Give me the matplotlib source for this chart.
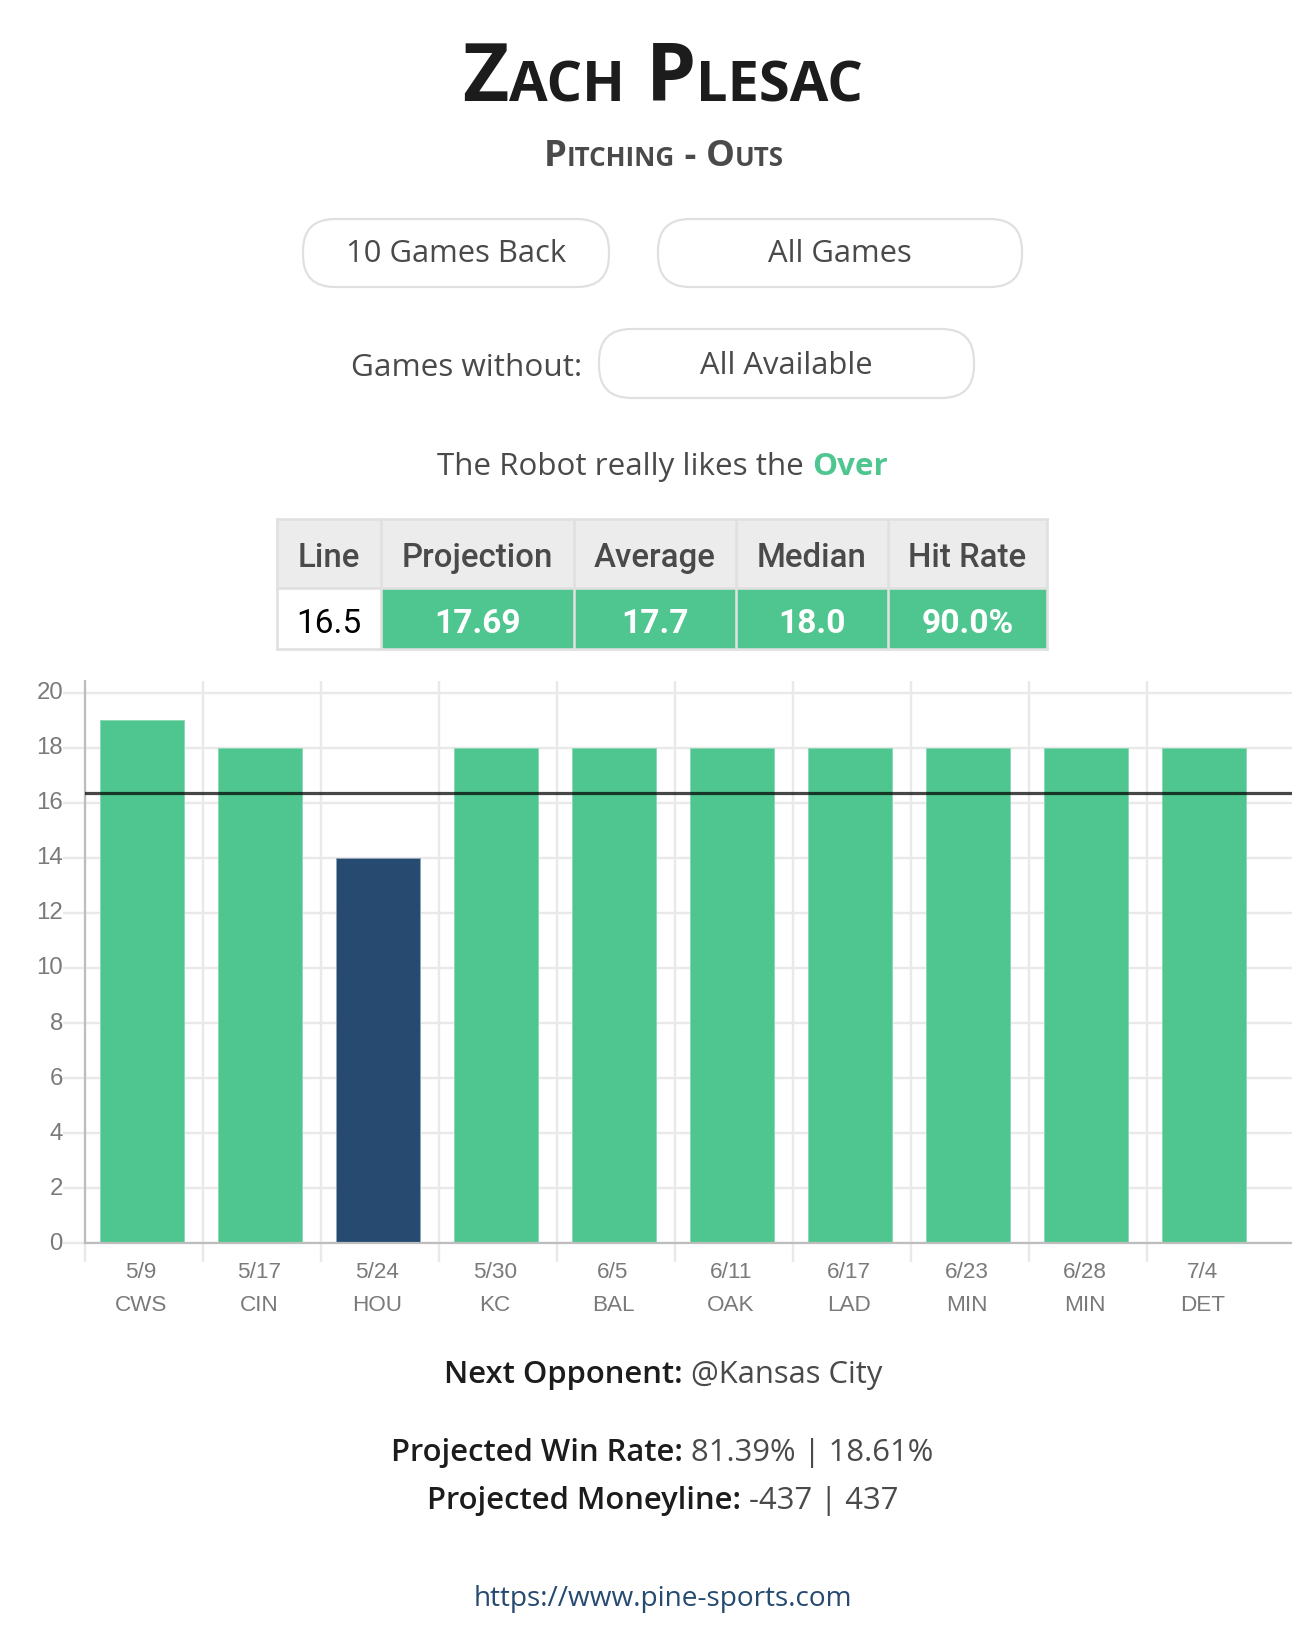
import matplotlib
matplotlib.use("Agg")
import matplotlib.pyplot as plt
from matplotlib.patches import FancyBboxPatch, Rectangle
from matplotlib.transforms import ScaledTranslation

W, H = 1292, 1628
DPI = 100
PX = 72 / DPI

# ---------- data ----------
dates = ["5/9", "5/17", "5/24", "5/30", "6/5", "6/11", "6/17", "6/23", "6/28", "7/4"]
opponents = ["CWS", "CIN", "HOU", "KC", "BAL", "OAK", "LAD", "MIN", "MIN", "DET"]
outs = [19, 18, 14, 18, 18, 18, 18, 18, 18, 18]
drawn_line = 16.36
table_headers = ["Line", "Projection", "Average", "Median", "Hit Rate"]
table_values = ["16.5", "17.69", "17.7", "18.0", "90.0%"]
y_ticks = list(range(0, 21, 2))

GREEN = "#4FC68F"
NAVY = "#264A70"
TEXT = "#4A4A4A"
DARK = "#1C1C1C"
BORDER = "#E0E0E0"
GRID = "#E9E9E9"

fig = plt.figure(figsize=(W / DPI, H / DPI), dpi=DPI, facecolor="white")

# ---------- chart ----------
L, R, Y0, TOP = 85, 1292, 1243, 681
per_unit = 27.52
band = 117.95
left_offset = 0.4856
ax = fig.add_axes([L / W, 1 - Y0 / H, (R - L) / W, (Y0 - TOP) / H])
ax.set_xlim(-left_offset, (R - L) / band - left_offset)
ax.set_ylim(0, (Y0 - TOP) / per_unit)
ax.set_axisbelow(True)
pos = list(range(len(outs)))
colors = [GREEN if v > drawn_line else NAVY for v in outs]
edges = ["#8CD8B4" if v > drawn_line else "#8FA3BA" for v in outs]
ax.bar(pos, outs, width=0.715, color=colors, edgecolor=edges, linewidth=0.7, zorder=2)
ax.axhline(drawn_line, color="black", alpha=0.72, lw=3.2 * PX, zorder=3)

for s in ["top", "right"]:
    ax.spines[s].set_visible(False)
for s in ["left", "bottom"]:
    ax.spines[s].set_color("#BDBDBD")
    ax.spines[s].set_linewidth(2.2 * PX)

ax.set_yticks(y_ticks)
ax.set_yticklabels([str(t) for t in y_ticks], fontsize=24 * PX, color="#7A7A7A",
                   fontfamily="Liberation Sans")
ax.tick_params(axis="y", length=22 * PX, width=2.4 * PX, color=GRID, pad=0)
ax.grid(axis="y", color=GRID, lw=2.4 * PX, zorder=0)
up = ScaledTranslation(0, 1.8 / DPI, fig.dpi_scale_trans)
for lbl in ax.get_yticklabels():
    lbl.set_transform(lbl.get_transform() + up)

ax.set_xticks(pos)
ax.set_xticklabels([f"{d}\n{o}" for d, o in zip(dates, opponents)], fontsize=22.5 * PX,
                   color="#7A7A7A", fontfamily="Liberation Sans", linespacing=1.75)
ax.tick_params(axis="x", which="major", length=0, pad=14)
shift = ScaledTranslation(-1.2 / DPI, 0, fig.dpi_scale_trans)
for lbl in ax.get_xticklabels():
    lbl.set_transform(lbl.get_transform() + shift)
edges_x = [p - left_offset for p in pos]
ax.set_xticks(edges_x, minor=True)
ax.tick_params(axis="x", which="minor", length=19 * PX, width=2.4 * PX, color=GRID)
ax.grid(axis="x", which="minor", color=GRID, lw=2.4 * PX, zorder=0)
ax.patch.set_alpha(0)

# ---------- page overlay (pixel coordinates) ----------
pg = fig.add_axes([0, 0, 1, 1], zorder=-1)
pg.set_xlim(0, W)
pg.set_ylim(H, 0)
pg.axis("off")
renderer = fig.canvas.get_renderer()


def runs(parts, y, cx=None, left=None, family="Open Sans"):
    """parts: (text, px size, weight, colour); drawn on one baseline."""
    items = []
    total = 0
    for text, size, weight, color in parts:
        t = pg.text(0, y, text, fontsize=size * PX, fontweight=weight, color=color,
                    family=family, va="baseline", ha="left")
        w = t.get_window_extent(renderer).width
        items.append((t, w))
        total += w
    x = cx - total / 2 if cx is not None else left
    for t, w in items:
        t.set_x(x)
        x += w


def pill(x0, y0, x1, y1):
    r = (y1 - y0) * 0.47
    pg.add_patch(FancyBboxPatch((x0 + r, y0 + r), x1 - x0 - 2 * r, y1 - y0 - 2 * r,
                                boxstyle=f"round,pad={r},rounding_size={r}",
                                fc="white", ec=BORDER, lw=2.2 * PX))


# title
B, S = 80, 56
runs([("Z", B, "bold", DARK), ("ACH", S, "bold", DARK), (" ", B, "bold", DARK),
      ("P", B, "bold", DARK), ("LESAC", S, "bold", DARK)], 101, cx=662.5)
B2, S2 = 36.5, 26
runs([("P", B2, "bold", TEXT), ("ITCHING", S2, "bold", TEXT), (" - ", B2, "bold", TEXT),
      ("O", B2, "bold", TEXT), ("UTS", S2, "bold", TEXT)], 166, cx=664)

# buttons
pill(303, 219, 609, 287)
pill(658, 219, 1022, 287)
pill(599, 329, 974, 398)
runs([("10 Games Back", 31, "normal", TEXT)], 262, cx=456.5)
runs([("All Games", 31, "normal", TEXT)], 262, cx=840)
runs([("All Available", 31, "normal", TEXT)], 374, cx=786)
runs([("Games without:", 31.5, "normal", TEXT)], 376, left=351)
runs([("The Robot really likes the ", 31.4, "normal", TEXT), ("Over", 31.4, "bold", GREEN)],
     475, cx=662.5)

# table
cols = [277, 381, 574, 736, 888, 1047]
T0, T1, T2 = 519, 588, 649
pg.add_patch(Rectangle((cols[0], T0), cols[-1] - cols[0], T1 - T0, fc="#ECECEC", ec="none"))
for i, (hdr, val) in enumerate(zip(table_headers, table_values)):
    x0, x1 = cols[i], cols[i + 1]
    fill = "white" if i == 0 else GREEN
    pg.add_patch(Rectangle((x0, T1), x1 - x0, T2 - T1, fc=fill, ec="none"))
    cx = (x0 + x1) / 2
    pg.text(cx, 567, hdr, fontsize=33 * PX, color=TEXT, family="Roboto", fontweight="medium",
            ha="center", va="baseline")
    pg.text(cx, 633, val, fontsize=33.5 * PX, color="black" if i == 0 else "white", family="Roboto",
            fontweight="normal" if i == 0 else "bold", ha="center", va="baseline")
for x in cols:
    pg.plot([x, x], [T0, T2], color=BORDER, lw=2.6 * PX, solid_capstyle="projecting")
for y in (T0, T1, T2):
    pg.plot([cols[0], cols[-1]], [y, y], color=BORDER, lw=2.6 * PX, solid_capstyle="projecting")

# footer
runs([("Next Opponent: ", 31, 600, DARK), ("@Kansas City", 31, "normal", TEXT)], 1383, cx=663)
runs([("Projected Win Rate: ", 31, 600, DARK), ("81.39% | 18.61%", 31, "normal", TEXT)], 1461, cx=662.5)
runs([("Projected Moneyline: ", 31, 600, DARK), ("-437 | 437", 31, "normal", TEXT)], 1509, cx=663)
runs([("https://www.pine-sports.com", 28, "normal", NAVY)], 1606, cx=663)

fig.savefig("out.png", dpi=DPI, facecolor="white")
